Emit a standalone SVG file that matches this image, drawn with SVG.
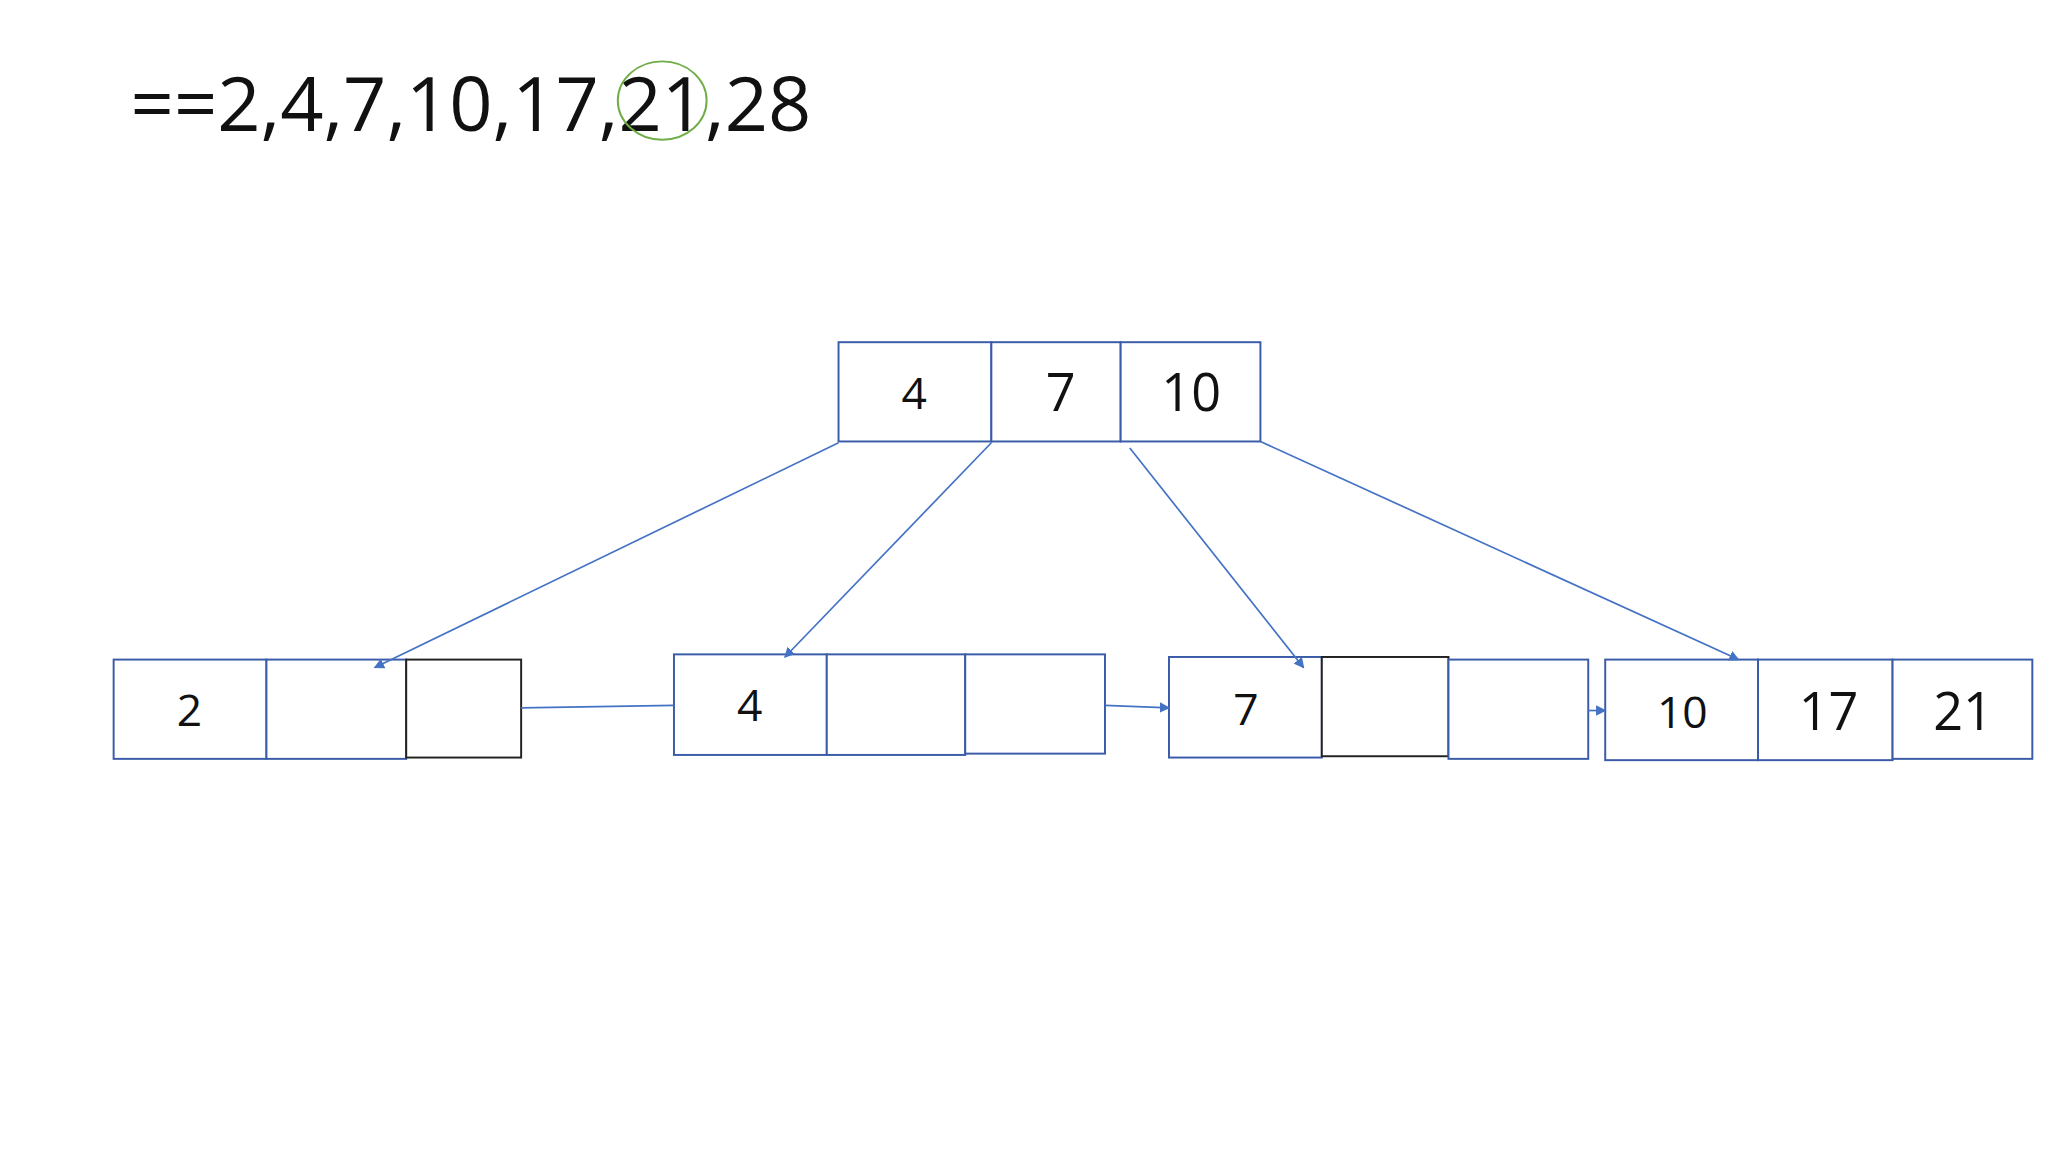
<svg xmlns="http://www.w3.org/2000/svg" width="2048" height="1152" viewBox="0 0 2048 1152">
<defs>
<style>
.c{fill:#fff;stroke:#3a5ba8;stroke-width:1.5}
.k{fill:#fff;stroke:#222;stroke-width:1.5}
.t{font-family:"Open Sans","Liberation Sans",sans-serif;fill:#111;text-anchor:middle}
.l{stroke:#4472c4;stroke-width:1.3;fill:none}
</style>
<marker id="a" markerWidth="8" markerHeight="8" refX="7" refY="4" orient="auto" markerUnits="userSpaceOnUse"><path d="M0,0L8,4L0,8z" fill="#4472c4"/></marker>
</defs>
<rect width="2048" height="1152" fill="#fff"/>
<g transform="scale(1.30612)">
<g id="title">
<text class="t" x="100" y="100" font-size="58" style="text-anchor:start">==2,4,7,10,17,21,28</text>
<ellipse cx="507" cy="77" rx="34" ry="30" fill="none" stroke="#70ad47" stroke-width="1.5"/>
</g>
<g id="root">
<rect class="c" x="642" y="262" width="117" height="76"/>
<rect class="c" x="759" y="262" width="99" height="76"/>
<rect class="c" x="858" y="262" width="107" height="76"/>
<text class="t" x="700" y="313" font-size="34">4</text>
<text class="t" x="812" y="315" font-size="40">7</text>
<text class="t" x="912" y="315" font-size="40">10</text>
</g>
<g id="leaf1">
<rect class="c" x="87" y="505" width="117" height="76"/>
<rect class="c" x="204" y="505" width="107" height="76"/>
<rect class="k" x="311" y="505" width="88" height="75"/>
<text class="t" x="145" y="556" font-size="34">2</text>
</g>
<g id="leaf2">
<rect class="c" x="516" y="501" width="117" height="77"/>
<rect class="c" x="633" y="501" width="106" height="77"/>
<rect class="c" x="739" y="501" width="107" height="76"/>
<text class="t" x="574" y="552" font-size="34">4</text>
</g>
<g id="leaf3">
<rect class="c" x="895" y="503" width="117" height="77"/>
<rect class="k" x="1012" y="503" width="97" height="76"/>
<rect class="c" x="1109" y="505" width="107" height="76"/>
<text class="t" x="954" y="555" font-size="34">7</text>
</g>
<g id="leaf4">
<rect class="c" x="1229" y="505" width="117" height="77"/>
<rect class="c" x="1346" y="505" width="103" height="77"/>
<rect class="c" x="1449" y="505" width="107" height="76"/>
<text class="t" x="1288" y="557" font-size="34">10</text>
<text class="t" x="1400" y="559" font-size="40">17</text>
<text class="t" x="1503" y="559" font-size="40">21</text>
</g>
<g id="connectors">
<line class="l" x1="642" y1="339" x2="287" y2="511" marker-end="url(#a)"/>
<line class="l" x1="759" y1="339" x2="601" y2="503" marker-end="url(#a)"/>
<line class="l" x1="865" y1="343" x2="998" y2="511" marker-end="url(#a)"/>
<line class="l" x1="965" y1="338" x2="1331" y2="505" marker-end="url(#a)"/>
<line class="l" x1="399" y1="542" x2="516" y2="540" stroke-width="0.8"/>
<line class="l" x1="846" y1="540" x2="895" y2="542" marker-end="url(#a)"/>
<line class="l" x1="1216" y1="544" x2="1229" y2="544" marker-end="url(#a)"/>
</g>
</g>
</svg>
